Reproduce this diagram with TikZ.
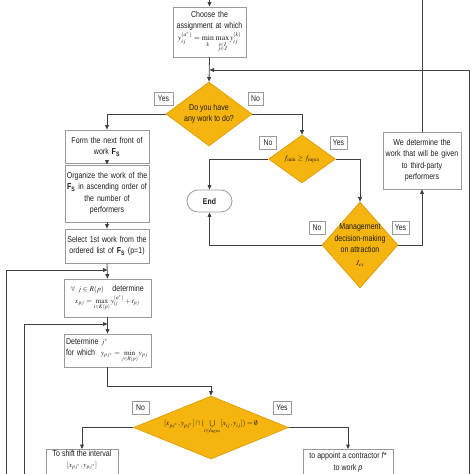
\documentclass[tikz,border=0pt]{standalone}
\usepackage{amsmath}
\usepackage{mathptmx}
\usepackage{fontspec}
\setmainfont{Liberation Sans}[FakeStretch=0.82]
\usetikzlibrary{arrows.meta,shapes.geometric,calc}
\newcommand{\fm}[1]{{\fontsize{7.2}{8}\selectfont$#1$}}
\newcommand{\fmb}[1]{{\fontsize{7.8}{8.5}\selectfont$#1$}}
\definecolor{linec}{HTML}{404040}
\definecolor{boxc}{HTML}{9A9A9A}
\definecolor{diafill}{HTML}{F6B40E}
\definecolor{diadraw}{HTML}{D89A00}
\definecolor{txtc}{HTML}{1E1E1E}
\tikzset{
  conn/.style={draw=linec,line width=0.8pt},
  arr/.style={conn,-{Triangle[length=4.5pt,width=3.8pt]}},
  procbox/.style={draw=boxc,line width=0.8pt,fill=white,rectangle,align=center,inner sep=1pt,text=txtc,font=\fontsize{8.6}{11.5}\selectfont},
  decbox/.style={draw=diadraw,line width=0.6pt,fill=diafill,diamond,inner sep=0pt},
  dectext/.style={align=center,text=txtc,font=\fontsize{8.6}{11.5}\selectfont,inner sep=0pt},
  ynbox/.style={draw=boxc,line width=0.7pt,fill=white,rectangle,inner sep=0pt,minimum height=13pt,text=txtc,font=\fontsize{8.4}{10}\selectfont},
  endbox/.style={draw=boxc,line width=0.8pt,fill=white,rectangle,rounded corners=11pt,minimum width=45pt,minimum height=22pt,font=\bfseries\fontsize{8.4}{10}\selectfont,text=txtc}
}
\begin{document}
\begin{tikzpicture}[x=1pt,y=-1pt]
\useasboundingbox (0,0) rectangle (474,474);
\clip (0,0) rectangle (474,474);

% process boxes
\node[procbox,minimum width=73pt,minimum height=50pt,text width=71pt] (choose) at (209.5,32)
  {Choose the\\ assignment at which\\[0.5pt] \fmb{y_{ij}^{(a^*)}=\min\limits_{k}\,\max\limits_{\substack{i\in I\\ j\in J}} y_{ij}^{(k)}}};
\node[procbox,minimum width=84pt,minimum height=33pt,text width=82pt] (form) at (107,146.5)
  {Form the next front of\\ work \textbf{F\textsubscript{S}}};
\node[procbox,minimum width=84pt,minimum height=57pt,text width=82pt] (organize) at (107,193.5)
  {Organize the work of the\\ \textbf{F\textsubscript{S}} in ascending order of\\ the number of\\ performers};
\node[procbox,minimum width=84pt,minimum height=34pt,text width=82pt] (select) at (107,246)
  {Select 1st work from the\\ ordered list of \textbf{F\textsubscript{S}} (p=1)};
\node[procbox,minimum width=87pt,minimum height=38pt,text width=85pt] (forall) at (107.5,298)
  {\fm{\forall\ j\in R(p)}\ \ \ determine\\[1pt] \fm{x_{pj}=\max\limits_{i\in K(p)} y_{ij}^{(a^*)}+t_{pj}}};
\node[procbox,minimum width=87pt,minimum height=33pt,text width=83pt,inner xsep=2pt,align=left] (determine) at (107.5,350.5)
  {Determine \fm{j^*}\\ for which \ \fm{y_{pj^*}=\min\limits_{j\in R(p)} y_{pj}}};
\node[procbox,minimum width=78pt,minimum height=57pt,text width=76pt] (we) at (422,160.5)
  {We determine the\\ work that will be given\\ to third-party\\ performers};
\node[procbox,inner sep=0pt,anchor=north] (shift) at (82,449)
  {\parbox[t][42pt][t]{72pt}{\centering\vspace{1pt}To shift the interval\\[-1pt] \fm{[x_{pj^*},y_{pj^*}]}}};
\node[procbox,inner sep=0pt,anchor=north] (appoint) at (348,449)
  {\parbox[t][42pt][t]{90pt}{\centering\vspace{3pt}to appoint a contractor \textit{f*}\\ to work \textit{p}}};
\node[endbox] (end) at (209.5,201) {End};

% decisions
\node[decbox,minimum width=86pt,minimum height=64pt] (dec1) at (209,114) {};
\node[dectext] (dec1t) at (dec1.center) {Do you have\\ any work to do?};
\node[decbox,minimum width=67pt,minimum height=48pt] (dec2) at (302,159) {};
\node[dectext] (dec2t) at (dec2.center) {\fm{f_{\min}\geq f_{\mathrm{mpcs}}}};
\node[decbox,minimum width=76pt,minimum height=86pt] (dec3) at (360,245) {};
\node[dectext] (dec3t) at (dec3.center) {Management\\ decision-making\\ on attraction\\[1pt] \fm{J_{ex}}};
\node[decbox,minimum width=155pt,minimum height=63pt] (dec4) at (211,427.5) {};
\node[dectext] (dec4t) at (dec4.center) {\fm{[x_{pj^*},y_{pj^*}]\cap(\bigcup\limits_{i\in I_{appo}}[x_{ij},y_{ij}])=\emptyset}};

% yes/no labels
\node[ynbox,minimum width=19pt] (y1) at (163.5,98.5) {Yes};
\node[ynbox,minimum width=15pt] (n1) at (255.5,98.5) {No};
\node[ynbox,minimum width=17pt] (n2) at (268,143) {No};
\node[ynbox,minimum width=17pt] (y2) at (338.5,143) {Yes};
\node[ynbox,minimum width=16pt] (n3) at (317,227.5) {No};
\node[ynbox,minimum width=17pt] (y3) at (400.5,227.5) {Yes};
\node[ynbox,minimum width=17pt] (n4) at (140.5,408) {No};
\node[ynbox,minimum width=18pt] (y4) at (282,408) {Yes};

% free ends
\coordinate (topin) at (209.5,0);
\coordinate (wetop) at (422,0);
\coordinate (rloopb) at (469,474);
\coordinate (rloopc) at (469,70);
\coordinate (rloopj) at (209.5,70);
\coordinate (l1b) at (6,474);
\coordinate (l1c) at (6,270);
\coordinate (l1j) at (107.5,270);
\coordinate (l2b) at (24,474);
\coordinate (l2c) at (24,324);
\coordinate (l2j) at (107.5,324);
\coordinate (detturn) at (107.5,386);

% connectors
\draw[arr] (topin) -- (choose.north);
\draw[arr] (choose.south) -- (dec1.north);
\draw[arr] (rloopb) -- (rloopc) -- (rloopj);
\draw[arr] (dec1.west) -| (form.north);
\draw[arr] (dec1.east) -| (dec2.north);
\draw[arr] (dec2.west) -| (end.north);
\draw[arr] (dec2.east) -| (dec3.north);
\draw[arr] (dec3.west) -| (end.south);
\draw[arr] (dec3.east) -| (we.south);
\draw[conn] (we.north) -- (wetop);
\draw[arr] (form.south) -- (organize.north);
\draw[arr] (organize.south) -- (select.north);
\draw[arr] (select.south) -- (forall.north);
\draw[arr] (forall.south) -- (determine.north);
\draw[arr] (l1b) -- (l1c) -- (l1j);
\draw[arr] (l2b) -- (l2c) -- (l2j);
\draw[arr] (determine.south) -- (detturn) -| (dec4.north);
\draw[arr] (dec4.west) -| (shift.north);
\draw[arr] (dec4.east) -| (appoint.north);
\end{tikzpicture}
\end{document}
